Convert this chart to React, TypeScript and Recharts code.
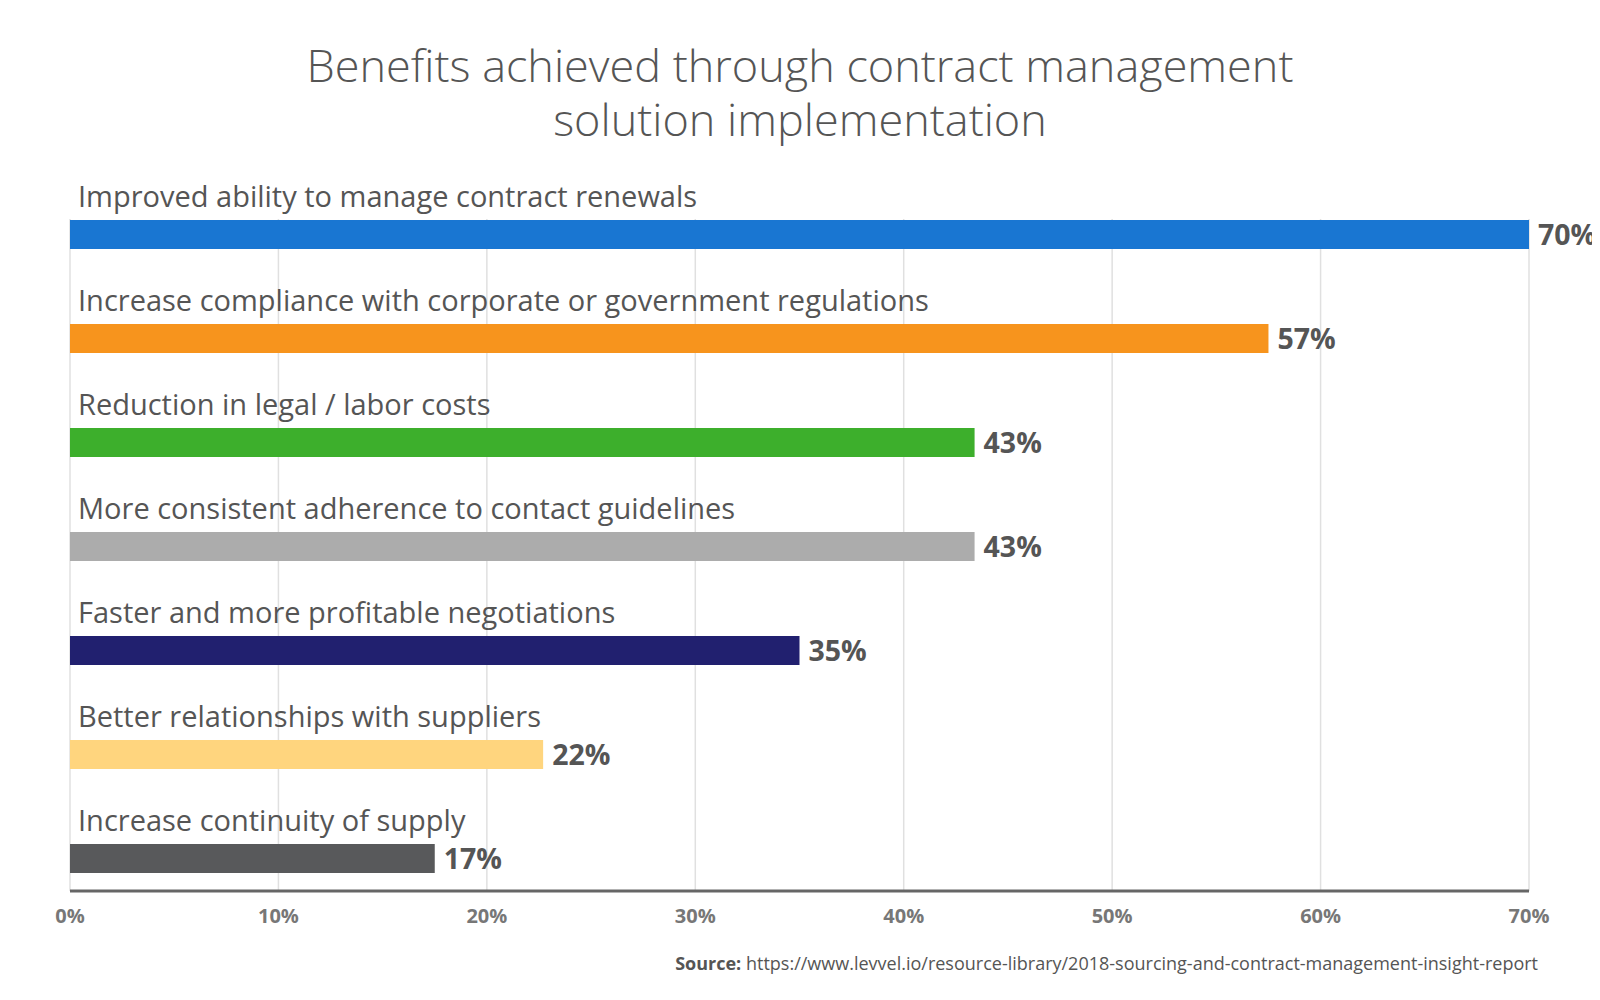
import React from 'react';
import { BarChart, Bar, XAxis, YAxis, CartesianGrid, Cell, LabelList } from 'recharts';

const categories = [
  'Improved ability to manage contract renewals',
  'Increase compliance with corporate or government regulations',
  'Reduction in legal / labor costs',
  'More consistent adherence to contact guidelines',
  'Faster and more profitable negotiations',
  'Better relationships with suppliers',
  'Increase continuity of supply',
];
const values = [70, 57.5, 43.4, 43.4, 35, 22.7, 17.5];
const valueLabels = ['70%', '57%', '43%', '43%', '35%', '22%', '17%'];
const colors = ['#1976d2', '#f7941d', '#3daf2c', '#acacac', '#21206f', '#ffd57e', '#58595b'];
const xTicks = [0, 10, 20, 30, 40, 50, 60, 70];
const titleLines = ['Benefits achieved through contract management', 'solution implementation'];

const data = categories.map((name, i) => ({ name, value: values[i], label: valueLabels[i] }));

const FONT = '"Open Sans", sans-serif';
const BAR_SHIFT = 19; // bars sit in the lower part of each row, category text above

const ShiftedBar = (props: any) => {
  const { x, y, width, height, fill } = props;
  return <rect x={x} y={y + BAR_SHIFT} width={width} height={height} fill={fill} />;
};

const CategoryLabel = (props: any) => {
  const { x, y, value } = props;
  return (
    <text x={x + 8} y={y + BAR_SHIFT - 13} fill="#555" fontSize={29} fontFamily={FONT}>
      {value}
    </text>
  );
};

const ValueLabel = (props: any) => {
  const { x, y, width, height, value } = props;
  return (
    <text
      x={x + width + 9}
      y={y + BAR_SHIFT + height / 2}
      dy={10}
      fill="#555"
      fontSize={28.5}
      fontWeight={700}
      fontFamily={FONT}
    >
      {value}
    </text>
  );
};

export default function App() {
  return (
    // cancel the body margin so the chart uses the whole 1600x1000 page
    <div style={{ position: 'relative', width: 1600, height: 1000, margin: '-8px 0 0 -8px', fontFamily: FONT }}>
      {titleLines.map((line, i) => (
        <div
          key={line}
          style={{
            position: 'absolute',
            top: 38 + i * 54,
            left: 0,
            width: 1600,
            height: 54,
            textAlign: 'center',
            fontSize: 45,
            fontWeight: 300,
            lineHeight: '54px',
            color: '#555',
          }}
        >
          {line}
        </div>
      ))}

      <BarChart
        width={1600}
        height={1000}
        data={data}
        layout="vertical"
        margin={{ top: 219, right: 71, bottom: 79, left: 70 }}
        barSize={29}
      >
        <CartesianGrid horizontal={false} stroke="#e0e0e0" strokeWidth={1.5} />
        <XAxis
          type="number"
          domain={[0, 70]}
          ticks={xTicks}
          height={30}
          tickFormatter={(v) => `${v}%`}
          axisLine={{ stroke: '#666', strokeWidth: 3 }}
          tickLine={false}
          tick={{ fill: '#777', fontSize: 20, fontWeight: 700, fontFamily: FONT }}
          tickMargin={12}
        />
        <YAxis
          type="category"
          dataKey="name"
          width={0}
          padding={{ top: -56, bottom: 0 }}
          tick={false}
          tickLine={false}
          axisLine={{ stroke: '#666', strokeWidth: 3 }}
        />
        <Bar dataKey="value" shape={<ShiftedBar />} isAnimationActive={false}>
          {data.map((d, i) => (
            <Cell key={d.name} fill={colors[i]} />
          ))}
          <LabelList dataKey="name" content={<CategoryLabel />} />
          <LabelList dataKey="label" content={<ValueLabel />} />
        </Bar>
      </BarChart>

      <div
        style={{
          position: 'absolute',
          top: 951,
          right: 62,
          fontSize: 18,
          color: '#555',
          whiteSpace: 'nowrap',
        }}
      >
        <b>Source:</b> https://www.levvel.io/resource-library/2018-sourcing-and-contract-management-insight-report
      </div>
    </div>
  );
}
